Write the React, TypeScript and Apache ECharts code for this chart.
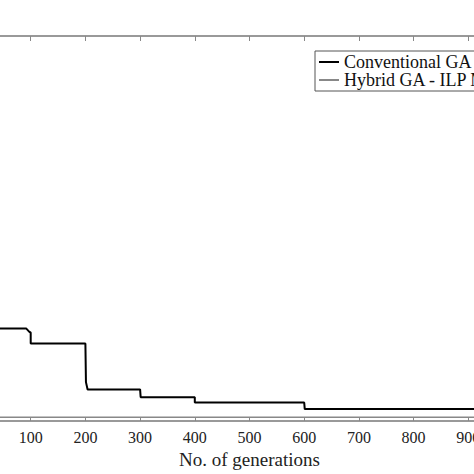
import React, { useEffect, useRef } from "react";
import * as echarts from "echarts";

const convX = [0, 92, 98, 100, 100, 200, 201, 204, 300, 301, 400, 400, 600, 601, 1000];
const convY = [24.0, 24.0, 23.1, 23.0, 20.1, 20.1, 10.1, 8.2, 8.2, 6.2, 6.2, 4.8, 4.8, 3.1, 3.1];
const hybX = [0, 1000];
const hybY = [1.0, 1.0];
const seriesNames = ["Conventional GA", "Hybrid GA - ILP Method"];
const xTitle = "No. of generations";

export default function App() {
  const ref = useRef<HTMLDivElement>(null);
  useEffect(() => {
    if (!ref.current) return;
    const chart = echarts.init(ref.current, undefined, { renderer: "svg" });
    const font = "'Liberation Serif', 'Times New Roman', serif";
    const axisLine = { show: true, lineStyle: { color: "#999", width: 2 } };
    chart.setOption({
      animation: false,
      backgroundColor: "#fff",
      grid: { left: 0, right: 0, top: 36, bottom: 53, containLabel: false, outerBoundsMode: "none" },
      legend: {
        orient: "vertical",
        left: 339,
        top: 51,
        data: seriesNames.map((n, i) => ({ name: n, icon: "rect", itemStyle: { color: i === 0 ? "#000" : "#888" } })),
        itemWidth: 20,
        itemHeight: 2,
        itemGap: 0,
        padding: [2, 200, 2, 4],
        borderColor: "#555",
        borderWidth: 1,
        backgroundColor: "#fff",
        textStyle: { fontFamily: font, fontSize: 18, color: "#111", lineHeight: 18 },
      },
      xAxis: [
        {
          type: "value",
          min: 0,
          max: 1000,
          interval: 100,
          position: "bottom",
          name: xTitle,
          nameLocation: "middle",
          nameGap: 28,
          nameTextStyle: { fontFamily: font, fontSize: 19, color: "#222" },
          axisLine,
          axisTick: { show: true, inside: true, length: 4, lineStyle: { color: "#888", width: 1 } },
          axisLabel: { fontFamily: font, fontSize: 16, color: "#222", margin: 8, formatter: (v: number) => String(v) },
          splitLine: { show: false },
        },
        {
          type: "value",
          min: 0,
          max: 1000,
          interval: 100,
          position: "top",
          axisLine,
          axisTick: { show: true, inside: true, length: 5, lineStyle: { color: "#888", width: 1 } },
          axisLabel: { show: false },
          splitLine: { show: false },
        },
      ],
      yAxis: [
        {
          type: "value",
          min: 0,
          max: 100,
          interval: 10,
          axisLine,
          axisTick: { show: true, inside: true },
          axisLabel: { show: false },
          splitLine: { show: false },
        },
      ],
      series: [
        {
          name: seriesNames[0],
          type: "line",
          symbol: "none",
          data: convX.map((x, i) => [x, convY[i]]),
          lineStyle: { color: "#000", width: 2 },
          itemStyle: { color: "#000" },
        },
        {
          name: seriesNames[1],
          type: "line",
          symbol: "none",
          data: hybX.map((x, i) => [x, hybY[i]]),
          lineStyle: { color: "#888", width: 1.5 },
          itemStyle: { color: "#888" },
        },
      ],
    });
    return () => chart.dispose();
  }, []);
  return <div ref={ref} style={{ position: "fixed", left: -24, top: 0, width: 547, height: 474 }} />;
}
